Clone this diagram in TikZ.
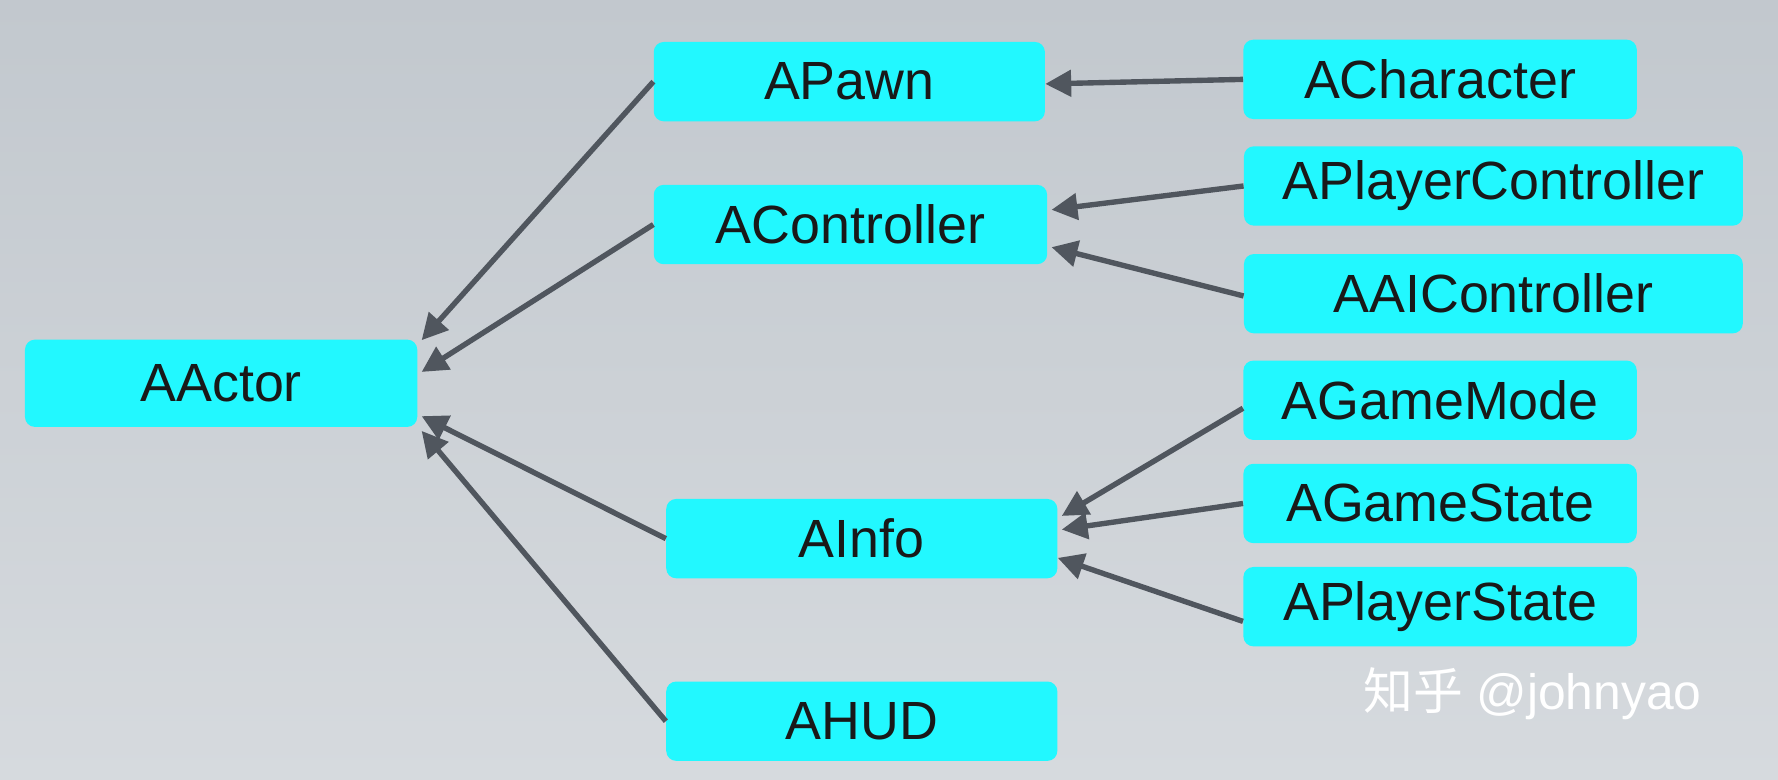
\documentclass[tikz,border=0pt]{standalone}
\usepackage{fontspec}
\setmainfont{Liberation Sans}
\newfontfamily\cjk{Noto Sans CJK SC}
\usetikzlibrary{arrows.meta}
\definecolor{boxcyan}{HTML}{22F8FF}
\definecolor{linkgray}{HTML}{50565E}
\definecolor{bgtop}{HTML}{C2C8CE}
\definecolor{bgbot}{HTML}{D6DADE}
\tikzset{
  cls/.style={fill=boxcyan, rounded corners=5pt, minimum height=1.4cm, text=black!90,
              font=\fontsize{27}{31}\selectfont, inner sep=0pt},
  inherit/.style={draw=linkgray, line width=2.7pt, -{Triangle[length=13pt,width=13pt]}}
}
\begin{document}
\begin{tikzpicture}[x=0.02cm,y=-0.02cm]
                \shade[top color=bgtop, bottom color=bgbot] (0,0) rectangle (1568,687);
                \useasboundingbox (0,0) rectangle (1568,687);
                % base and first level
                \node[cls, minimum width=6.92cm, minimum height=1.54cm] (AActor) at (195,338) {AActor};
                \node[cls, minimum width=6.9cm] (APawn) at (749,72) {APawn};
                \node[cls, minimum width=6.94cm] (AController) at (750,198) {AController};
                \node[cls, minimum width=6.9cm] (AInfo) at (760,475) {AInfo};
                \node[cls, minimum width=6.9cm] (AHUD) at (760,636) {AHUD};
                % second level
                \node[cls, minimum width=6.94cm] (ACharacter) at (1270,70) {ACharacter};
                \node[cls, minimum width=8.8cm] (APlayerController) at (1317,164) {APlayerController};
                \node[cls, minimum width=8.8cm] (AAIController) at (1317,259) {AAIController};
                \node[cls, minimum width=6.94cm] (AGameMode) at (1270,353) {AGameMode};
                \node[cls, minimum width=6.94cm] (AGameState) at (1270,444) {AGameState};
                \node[cls, minimum width=6.94cm] (APlayerState) at (1270,535) {APlayerState};
                % inheritance arrows
                \draw[inherit] (APawn.west) -- ([xshift=2pt,yshift=0.76cm]AActor.east);
                \draw[inherit] (AController.west) -- ([xshift=2pt,yshift=0.2cm]AActor.east);
                \draw[inherit] (AInfo.west) -- ([xshift=2pt,yshift=-0.58cm]AActor.east);
                \draw[inherit] (AHUD.west) -- ([xshift=2pt,yshift=-0.84cm]AActor.east);
                \draw[inherit] (ACharacter.west) -- ([yshift=-0.04cm]APawn.east);
                \draw[inherit] (APlayerController.west) -- ([xshift=2pt,yshift=0.26cm]AController.east);
                \draw[inherit] ([yshift=-0.04cm]AAIController.west) -- ([xshift=2pt,yshift=-0.4cm]AController.east);
                \draw[inherit] ([yshift=-0.14cm]AGameMode.west) -- ([xshift=2pt,yshift=0.4cm]AInfo.east);
                \draw[inherit] (AGameState.west) -- ([xshift=2pt,yshift=0.16cm]AInfo.east);
                \draw[inherit] ([yshift=-0.26cm]APlayerState.west) -- ([yshift=-0.34cm]AInfo.east);
                % watermark
                \node[text=white, font=\fontsize{25}{29}\selectfont, anchor=west] (mark) at (1196,612) {{\cjk 知乎} @johnyao};
            \end{tikzpicture}
\end{document}
